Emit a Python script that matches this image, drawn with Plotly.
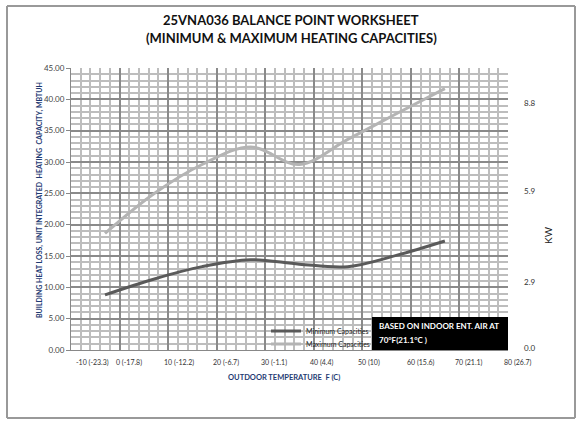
import plotly.graph_objects as go

# ---- data ----
temps_f = [-3, 7, 17, 27, 37, 47, 57, 67]
min_cap = [8.8, 11.3, 13.3, 14.4, 13.7, 13.3, 15.1, 17.4]
max_cap = [18.6, 24.9, 29.6, 32.4, 29.6, 33.6, 37.7, 41.7]

x_tick_vals = [-10, 0, 10, 20, 30, 40, 50, 60, 70, 80]
x_tick_text = ["-10 (-23.3)", "0 (-17.8)", "10 (-12.2)", "20 (-6.7)", "30 (-1.1)",
               "40 (4.4)", "50 (10)", "60 (15.6)", "70 (21.1)", "80 (26.7)"]
kw_text = ["8.8", "5.9", "2.9", "0.0"]
kw_pos = [39.4, 25.4, 10.8, 0.3]

FONT = "Lato"
NAVY = "#1f3b73"

L, T, W, H = 71, 68, 437, 282
def px(x):
    return (x - L) / W
def py(y):
    return 1 - (y - T) / H

fig = go.Figure()
fig.add_trace(go.Scatter(x=temps_f, y=min_cap, mode="lines", name="Minimum Capacities",
                         legend="legend",
                         line=dict(color="#5a5a5a", width=3, shape="spline", smoothing=1.0)))
fig.add_trace(go.Scatter(x=temps_f, y=max_cap, mode="lines", name="Maximum Capacities",
                         legend="legend2",
                         line=dict(color="#b4b4b4", width=3, shape="spline", smoothing=1.0)))

ann = []
ann.append(dict(text="<b>25VNA036 BALANCE POINT WORKSHEET</b>", x=px(291), y=py(20),
                xref="paper", yref="paper", showarrow=False, xanchor="center", yanchor="middle",
                font=dict(family=FONT, size=13, color="#111")))
ann.append(dict(text="<b>(MINIMUM &amp; MAXIMUM HEATING CAPACITIES)</b>", x=px(291), y=py(38),
                xref="paper", yref="paper", showarrow=False, xanchor="center", yanchor="middle",
                font=dict(family=FONT, size=13, color="#111")))
for v, t in zip(x_tick_vals, x_tick_text):
    ann.append(dict(text=t, x=v, y=py(362), xref="x", yref="paper", showarrow=False,
                    xanchor="left", yanchor="middle", xshift=-6 if v != -10 else 3,
                    font=dict(family=FONT, size=7, color="#333")))
ann.append(dict(text="<b>OUTDOOR TEMPERATURE  F (C)</b>", x=px(284), y=py(377), xref="paper",
                yref="paper", showarrow=False, xanchor="center", yanchor="middle",
                font=dict(family=FONT, size=7.5, color=NAVY)))
ann.append(dict(text="<b>BUILDING HEAT LOSS, UNIT INTEGRATED  HEATING  CAPACITY, MBTUH</b>",
                x=px(39), y=py(200), xref="paper", yref="paper", showarrow=False, textangle=-90,
                xanchor="center", yanchor="middle", font=dict(family=FONT, size=7, color=NAVY)))
for t, p in zip(kw_text, kw_pos):
    ann.append(dict(text=t, x=px(530), y=p, xref="paper", yref="y", showarrow=False,
                    xanchor="center", yanchor="middle", font=dict(family=FONT, size=8, color="#333")))
ann.append(dict(text="KW", x=px(548), y=py(235), xref="paper", yref="paper", showarrow=False,
                textangle=-90, xanchor="center", yanchor="middle",
                font=dict(family=FONT, size=10, color="#222")))
ann.append(dict(text="<b>BASED ON INDOOR ENT. AIR AT</b>", x=px(377), y=py(326), xref="paper",
                yref="paper", showarrow=False, xanchor="left", yanchor="middle",
                font=dict(family=FONT, size=8, color="white")))
ann.append(dict(text="<b>70°F(21.1°C )</b>", x=px(377), y=py(340), xref="paper",
                yref="paper", showarrow=False, xanchor="left", yanchor="middle",
                font=dict(family=FONT, size=8, color="white")))

border = dict(color="#999", width=2)
shapes = [
    dict(type="rect", xref="paper", yref="paper", x0=px(372), x1=px(508), y0=py(350), y1=py(317),
         fillcolor="black", line=dict(width=0), layer="above"),
    dict(type="line", xref="paper", yref="paper", x0=px(7), x1=px(575), y0=py(6), y1=py(6), line=border),
    dict(type="line", xref="paper", yref="paper", x0=px(7), x1=px(575), y0=py(418), y1=py(418), line=border),
    dict(type="line", xref="paper", yref="paper", x0=px(7), x1=px(7), y0=py(6), y1=py(418), line=border),
    dict(type="line", xref="paper", yref="paper", x0=px(575), x1=px(575), y0=py(6), y1=py(418), line=border),
]

legend_common = dict(xanchor="left", yanchor="middle", bgcolor="rgba(0,0,0,0)",
                     font=dict(family=FONT, size=7, color="#222"), itemwidth=30,
                     borderwidth=0)

fig.update_layout(
    width=581, height=425,
    margin=dict(l=L, r=581 - L - W, t=T, b=425 - T - H),
    paper_bgcolor="white", plot_bgcolor="white",
    annotations=ann, shapes=shapes,
    showlegend=True,
    legend=dict(x=px(266), y=py(331), **legend_common),
    legend2=dict(x=px(266), y=py(344), **legend_common),
    xaxis=dict(range=[-10, 80], tick0=-10, dtick=10, showticklabels=False,
               showgrid=True, gridcolor="#8a8a8a", gridwidth=1.5,
               minor=dict(dtick=2, tick0=-10, showgrid=True, gridcolor="#bdbdbd", gridwidth=1.5),
               showline=True, linecolor="#888", linewidth=1, zeroline=False, ticks=""),
    yaxis=dict(range=[0, 45], tick0=0, dtick=5, tickformat=".2f",
               tickfont=dict(family=FONT, size=8, color="#444"),
               showgrid=True, gridcolor="#8a8a8a", gridwidth=1.5,
               minor=dict(dtick=1, showgrid=True, gridcolor="#bdbdbd", gridwidth=1.5),
               showline=True, linecolor="#888", linewidth=1, zeroline=False,
               ticks="outside", ticklen=4, tickcolor="#888"),
)

fig.write_html("out.html", config={"displayModeBar": False},
               post_script="document.body.style.margin='0';document.body.style.padding='0';")
